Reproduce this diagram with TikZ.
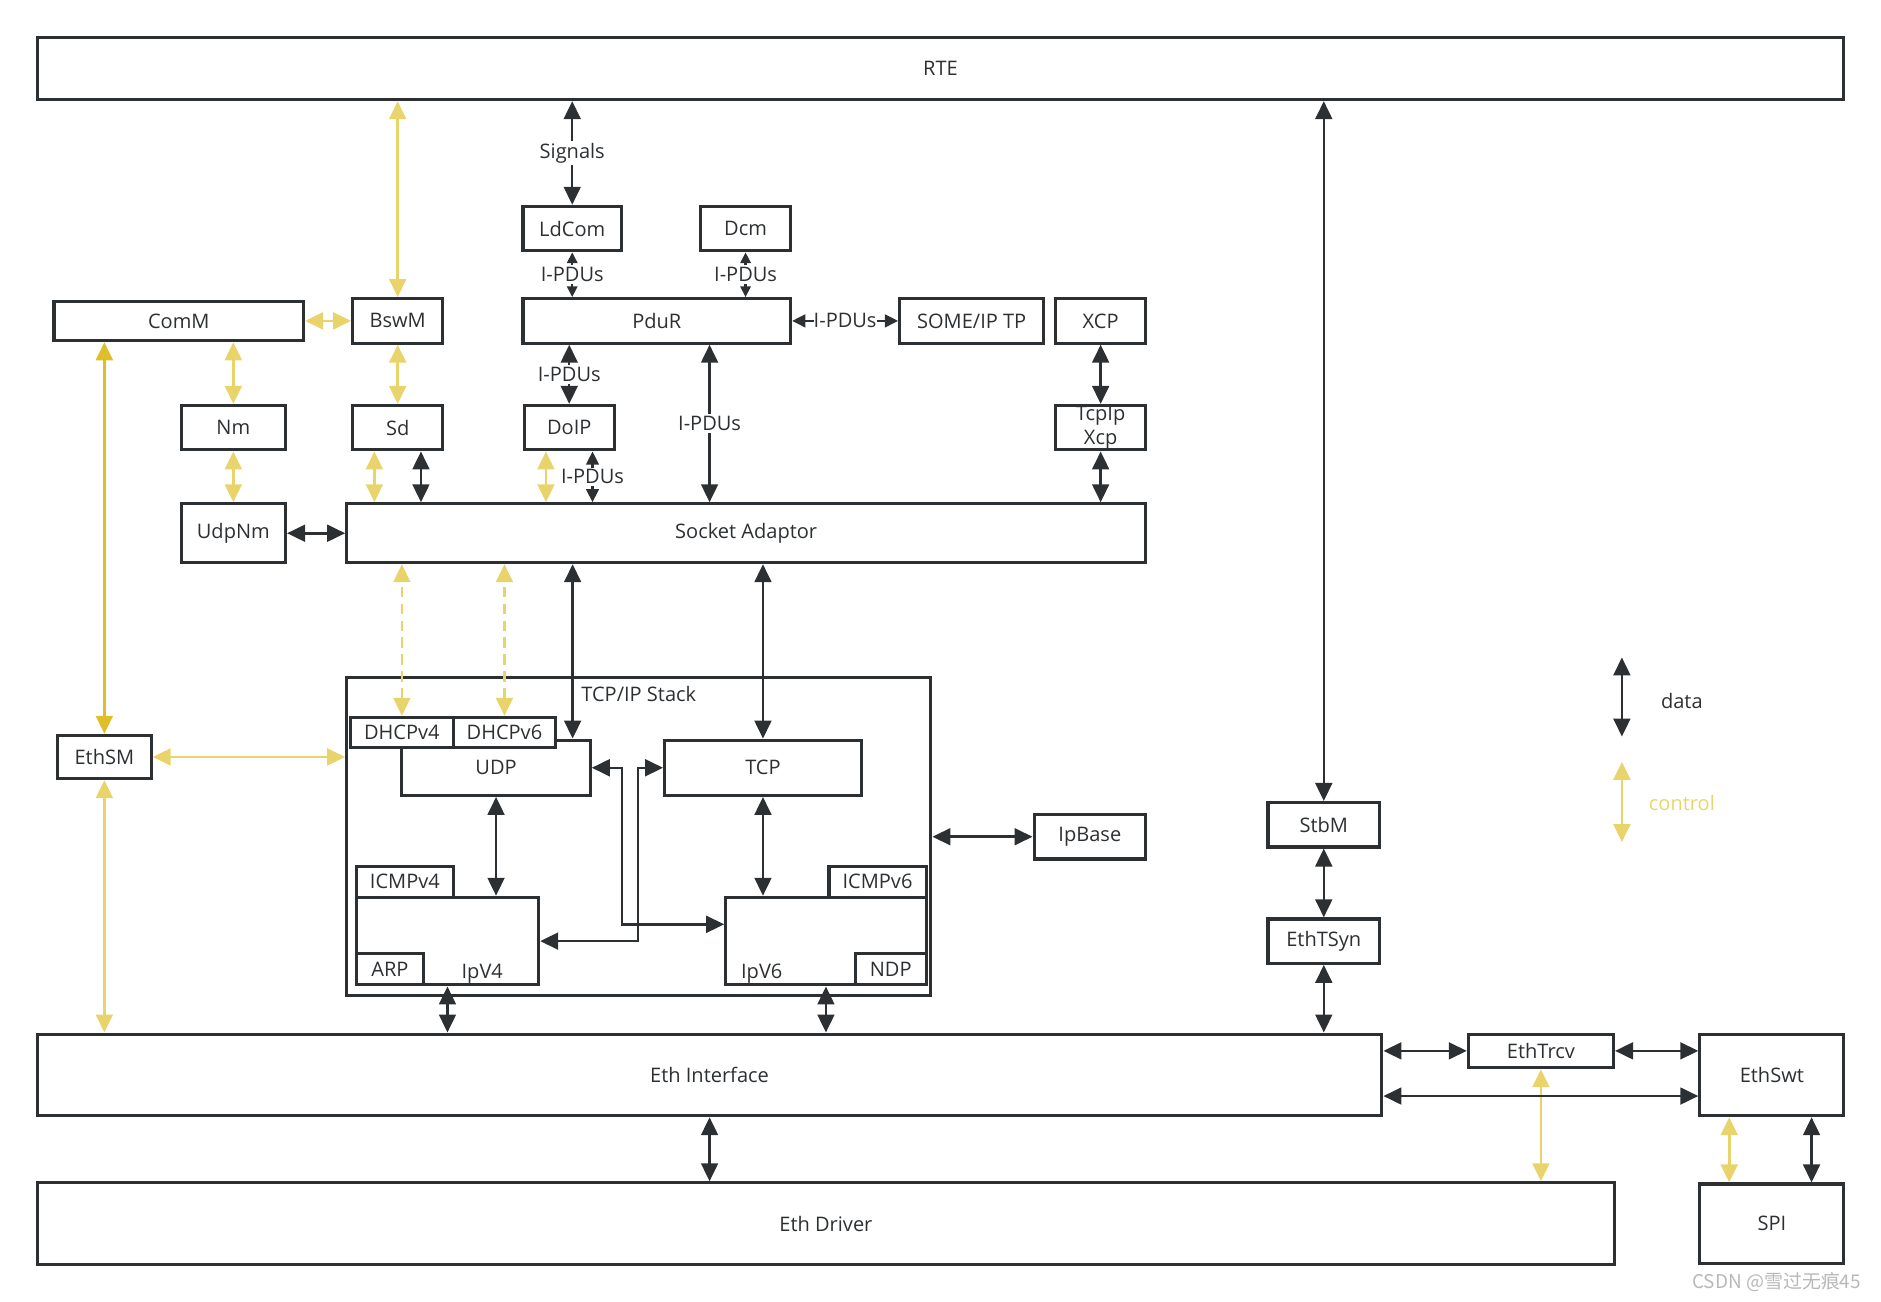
\documentclass[tikz,border=0pt]{standalone}
\usepackage{fontspec}
\setmainfont{Open Sans}
\newfontfamily\cjkfont{Noto Sans CJK SC}
\usetikzlibrary{arrows.meta,calc}
\definecolor{linec}{RGB}{45,48,50}
\definecolor{ctrlc}{RGB}{233,212,108}
\definecolor{goldc}{RGB}{224,190,42}
\tikzset{
  blk/.style={draw=linec,line width=1.5pt,fill=white,inner sep=0pt},
  sz/.style 2 args={minimum width=#1*0.2mm,minimum height=#2*0.2mm},
  data/.style={<->,draw=linec,line width=1.2pt},
  ctrl/.style={<->,draw=ctrlc,line width=1.3pt},
  lbl/.style={fill=white,inner sep=1pt},
  small/.style={{Triangle[length=1.8mm,width=1.7mm]}-{Triangle[length=1.8mm,width=1.7mm]}},
  mid/.style={{Triangle[length=2.2mm,width=2.1mm]}-{Triangle[length=2.2mm,width=2.1mm]}},
}
\begin{document}
\begin{tikzpicture}[x=0.02cm,y=-0.02cm,>={Triangle[length=3mm,width=2.8mm]},font=\fontsize{9.5}{11}\selectfont,text=linec]
\useasboundingbox (0,0) rectangle (1568,1085);
% boxes
\node[blk,sz={1506}{52}] (rte) at (784,57) {RTE};
\foreach \n/\x/\y/\w/\h/\txt in {
  ldcom/477/190.5/82/37/LdCom, dcm/621.5/190.5/75/37/Dcm,
  comm/149/267.5/208/33/ComM, bswm/331.5/267.5/75/37/BswM, pdur/547.5/267.5/223/37/PduR, xcp/917.5/267.5/75/37/XCP,
  nm/194.5/356.5/87/37/Nm, sd/331.5/356.5/75/37/Sd, doip/474.5/356.5/75/37/DoIP,
  udpnm/194.5/444.5/87/49/UdpNm, ethsm/87/631/78/36/EthSM, ipbase/908.5/697.5/93/37/IpBase,
  stbm/1103.5/687.5/93/37/StbM, ethtsyn/1103.5/784.5/93/37/EthTSyn}
  \node[blk,sz={\w}{\h}] (\n) at (\x,\y) {\txt};
\node[blk,sz={120}{37}] (someip) at (810,267.5) {SOME/IP TP};
\node[blk,sz={75}{37},align=center,font=\fontsize{9.5}{11}\selectfont] (tcpxcp) at (917.5,356.5) {TcpIp\\Xcp};
\node[blk,sz={666}{49}] (sa) at (622,444.5) {Socket Adaptor};
% tcp/ip stack
\node[blk,sz={487}{265}] (stack) at (532.5,697.5) {};
\node[below=1pt] (stacklbl) at (stack.north) {TCP/IP Stack};
\node[blk,sz={157}{46}] (udp) at (413.5,640) {UDP};
\node[blk,sz={86}{25}] (dhcpv4) at (335,610.5) {DHCPv4};
\node[blk,sz={85}{25}] (dhcpv6) at (420.5,610.5) {DHCPv6};
\node[blk,sz={164}{46}] (tcp) at (636,640) {TCP};
\node[blk,sz={152}{73}] (ipv4) at (373,784.5) {};
\node[blk,sz={81}{26}] (icmpv4) at (337.5,735) {ICMPv4};
\node[blk,sz={56}{26}] (arp) at (325,808) {ARP};
\node (ipv4lbl) at (402,812) {IpV4};
\node[blk,sz={167}{73}] (ipv6) at (688.5,784.5) {};
\node[blk,sz={81}{26}] (icmpv6) at (731.5,735) {ICMPv6};
\node[blk,sz={59}{26}] (ndp) at (742.5,808) {NDP};
\node (ipv6lbl) at (635,812) {IpV6};
% lower layer
\node[blk,sz={1121}{68}] (ethif) at (591.5,896) {Eth Interface};
\node[blk,sz={121}{28}] (ethtrcv) at (1284.5,876) {EthTrcv};
\node[blk,sz={120}{68}] (ethswt) at (1477,896) {EthSwt};
\node[blk,sz={1315}{68}] (ethdrv) at (688.5,1020) {Eth Driver};
\node[blk,sz={120}{66}] (spi) at (1477,1020) {SPI};
% attach points
\coordinate (sdc) at ($(sd.south west)!.25!(sd.south east)$);
\coordinate (sdd) at ($(sd.south west)!.75!(sd.south east)$);
\coordinate (doipc) at ($(doip.south west)!.25!(doip.south east)$);
\coordinate (doipd) at ($(doip.south west)!.75!(doip.south east)$);
\coordinate (pdsa) at ($(pdur.south west)!.695!(pdur.south east)$);
\coordinate (udpsa) at ($(udp.north west)!.9!(udp.north east)$);
\coordinate (ipv6w) at ($(ipv6.north west)!.315!(ipv6.south west)$);
\coordinate (swif) at ($(ethswt.north west)!.75!(ethswt.south west)$);
\coordinate (swc) at ($(ethswt.south west)!.21!(ethswt.south east)$);
\coordinate (swd) at ($(ethswt.south west)!.77!(ethswt.south east)$);
% control
\draw[ctrl] (bswm.north) -- (bswm.north |- rte.south);
\draw[ctrl] (comm.east) -- (bswm.west);
\draw[ctrl] (bswm.south) -- (sd.north);
\draw[ctrl] (nm.north) -- (nm.north |- comm.south);
\draw[ctrl] (nm.south) -- (udpnm.north);
\draw[ctrl] (sdc) -- (sdc |- sa.north);
\draw[ctrl] (doipc) -- (doipc |- sa.north);
\draw[ctrl,draw=goldc] (ethsm.north) -- (ethsm.north |- comm.south);
\draw[ctrl] (ethsm.south) -- (ethsm.south |- ethif.north);
\draw[ctrl] (ethsm.east) -- (ethsm.east -| stack.west);
\draw[ctrl,dash pattern=on 5pt off 3pt] (dhcpv4.north) -- (dhcpv4.north |- sa.south);
\draw[ctrl,dash pattern=on 5pt off 3pt] (dhcpv6.north) -- (dhcpv6.north |- sa.south);
\draw[ctrl] (ethtrcv.south) -- (ethtrcv.south |- ethdrv.north);
\draw[ctrl] (swc) -- (swc |- spi.north);
% data
\draw[data] (ldcom.north) -- (ldcom.north |- rte.south) node[midway,lbl] (sig) {Signals};
\draw[data,small] (ldcom.south) -- (ldcom.south |- pdur.north) node[midway,lbl] (ipdu1) {I-PDUs};
\draw[data,small] (dcm.south) -- (dcm.south |- pdur.north) node[midway,lbl] (ipdu2) {I-PDUs};
\draw[data,mid] (pdur.east) -- (someip.west) node[midway,lbl,inner sep=0pt] (ipdu3) {I-PDUs};
\draw[data] (doip.north) -- (doip.north |- pdur.south) node[midway,lbl] (ipdu4) {I-PDUs};
\draw[data] (pdsa) -- (pdsa |- sa.north) node[midway,lbl] (ipdu5) {I-PDUs};
\draw[data,mid] (doipd) -- (doipd |- sa.north) node[midway,lbl] (ipdu6) {I-PDUs};
\draw[data] (sdd) -- (sdd |- sa.north);
\draw[data] (xcp.south) -- (tcpxcp.north);
\draw[data] (tcpxcp.south) -- (tcpxcp.south |- sa.north);
\draw[data] (udpnm.east) -- (udpnm.east -| sa.west);
\draw[data] (udpsa) -- (udpsa |- sa.south);
\draw[data] (tcp.north) -- (tcp.north |- sa.south);
\draw[data] (udp.south) -- (udp.south |- ipv4.north);
\draw[data] (tcp.south) -- (tcp.south |- ipv6.north);
\draw[data] (udp.east) -- ++(25,0) |- (ipv6w);
\draw[data] (tcp.west) -- ++(-21,0) |- (ipv4.east);
\draw[data] (ipv4.south) -- (ipv4.south |- ethif.north);
\draw[data] (ipv6.south) -- (ipv6.south |- ethif.north);
\draw[data] (ipbase.west) -- (ipbase.west -| stack.east);
\draw[data] (stbm.north) -- (stbm.north |- rte.south);
\draw[data] (stbm.south) -- (ethtsyn.north);
\draw[data] (ethtsyn.south) -- (ethtsyn.south |- ethif.north);
\draw[data] (ethtrcv.west) -- (ethtrcv.west -| ethif.east);
\draw[data] (ethtrcv.east) -- (ethtrcv.east -| ethswt.west);
\draw[data] (swif) -- (swif -| ethif.east);
\draw[data] (ethif.south) -- (ethif.south |- ethdrv.north);
\draw[data] (swd) -- (swd |- spi.north);
% legend
\coordinate (dtop) at (1352,548);
\coordinate (dbot) at (1352,614);
\draw[data] (dtop) -- (dbot);
\node (datalbl) at (1402,584) {data};
\coordinate (ctop) at (1352,635);
\coordinate (cbot) at (1352,702);
\draw[ctrl] (ctop) -- (cbot);
\node[text=ctrlc] (ctrllbl) at (1402,669) {control};
\node[text=black!28,font=\cjkfont\fontsize{9}{10}\selectfont] (mark) at (1481,1069) {CSDN @雪过无痕45};
\end{tikzpicture}
\end{document}
